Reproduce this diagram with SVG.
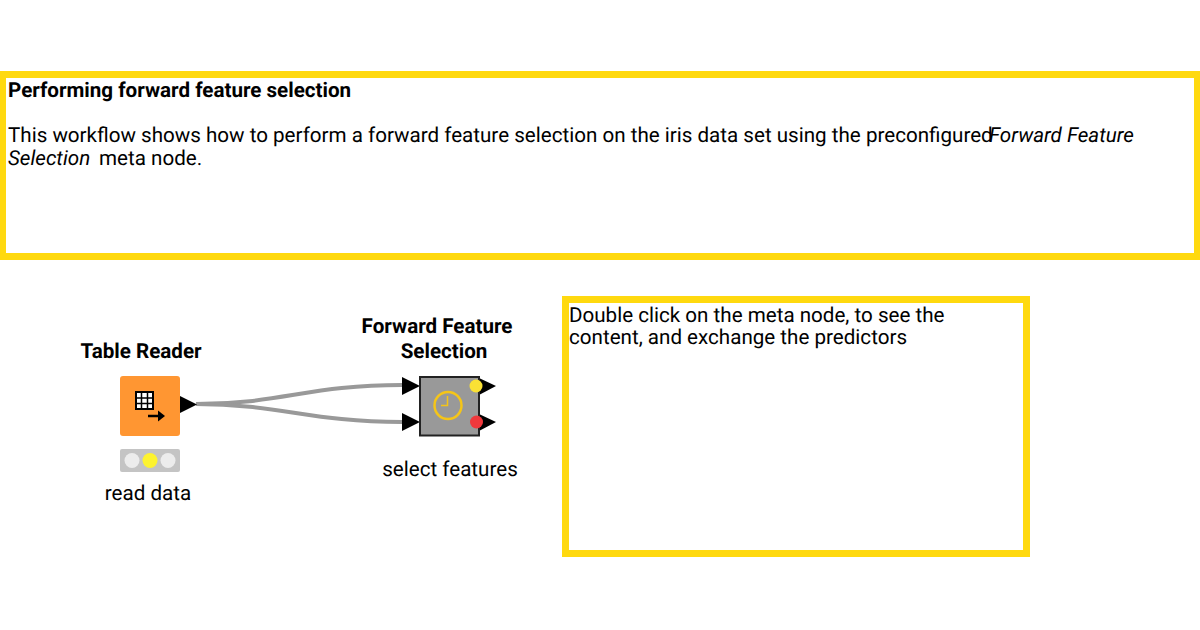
<svg xmlns="http://www.w3.org/2000/svg" width="1200" height="630" viewBox="0 0 1200 630">
<style>
text{font-family:Roboto,"Liberation Sans",sans-serif;fill:#000;font-size:20.6px;text-rendering:geometricPrecision}
.b{font-weight:700}
.i{font-style:italic}
.note{fill:#fff;stroke:#ffd90f;stroke-width:7}
.wire{fill:none;stroke:#999;stroke-width:4}
.port{fill:#000}
</style>
<rect width="1200" height="630" fill="#fff"/>
<g id="note-top">
<rect class="note" x="2.500" y="74.500" width="1195" height="182"/>
<text class="b" x="8" y="97">Performing forward feature selection</text>
<text x="8" y="142">This workflow shows how to perform a forward feature selection on the iris data set using the preconfigured</text>
<text class="i" x="989" y="142">Forward Feature</text>
<text class="i" x="8" y="165">Selection</text>
<text x="99" y="165">meta node.</text>
</g>
<g id="note-right">
<rect class="note" x="565.500" y="299.500" width="461" height="254"/>
<text x="569" y="322">Double click on the meta node, to see the</text>
<text x="569" y="344">content, and exchange the predictors</text>
</g>
<g id="connectors">
<path class="wire" d="M196 404C280 404 310 385 402 385"/>
<path class="wire" d="M196 404C280 404 310 422 402 422"/>
</g>
<g id="table-reader">
<text class="b" x="141" y="358" text-anchor="middle">Table Reader</text>
<rect x="120" y="376" width="60" height="60" rx="3" fill="#ff9632"/>
<g fill="none" stroke="#000">
<rect x="136" y="392" width="17" height="17" stroke-width="2" fill="#fff"/>
<path d="M136 398H153M136 403.500H153M141.500 392V409M147.500 392V409" stroke-width="1.500"/>
<path d="M148 416H163" stroke-width="2.500"/>
</g>
<path d="M158 410.500L165 416L158 421.500Z" fill="#000"/>
<path class="port" d="M180 396L197 404.500L180 413Z"/>
<rect x="120" y="449" width="60" height="23" rx="2" fill="#c4c4c4"/>
<circle cx="132" cy="460.500" r="7.500" fill="#ececec"/>
<circle cx="150" cy="460.500" r="7.500" fill="#fdf32f"/>
<circle cx="168" cy="460.500" r="7.500" fill="#ececec"/>
<text x="148" y="500" text-anchor="middle">read data</text>
</g>
<g id="forward-feature-selection">
<text class="b" x="437" y="333" text-anchor="middle">Forward Feature</text>
<text class="b" x="444" y="358" text-anchor="middle">Selection</text>
<path class="port" d="M402 377L420 386L402 395Z"/>
<path class="port" d="M402 413L420 422L402 431Z"/>
<path class="port" d="M479 378L496 386L479 395Z"/>
<path class="port" d="M479 414L496 422L479 431Z"/>
<rect x="420" y="377" width="59" height="58.500" fill="#999" stroke="#222" stroke-width="2"/>
<circle cx="448" cy="405.500" r="13.500" fill="none" stroke="#f5c518" stroke-width="2.500"/>
<path d="M447.500 396V405.500H441" fill="none" stroke="#f5c518" stroke-width="1.500"/>
<circle cx="476" cy="386" r="6.500" fill="#fae135"/>
<circle cx="476.500" cy="422" r="6.500" fill="#f0383c"/>
<text x="450" y="476" text-anchor="middle">select features</text>
</g>
</svg>
